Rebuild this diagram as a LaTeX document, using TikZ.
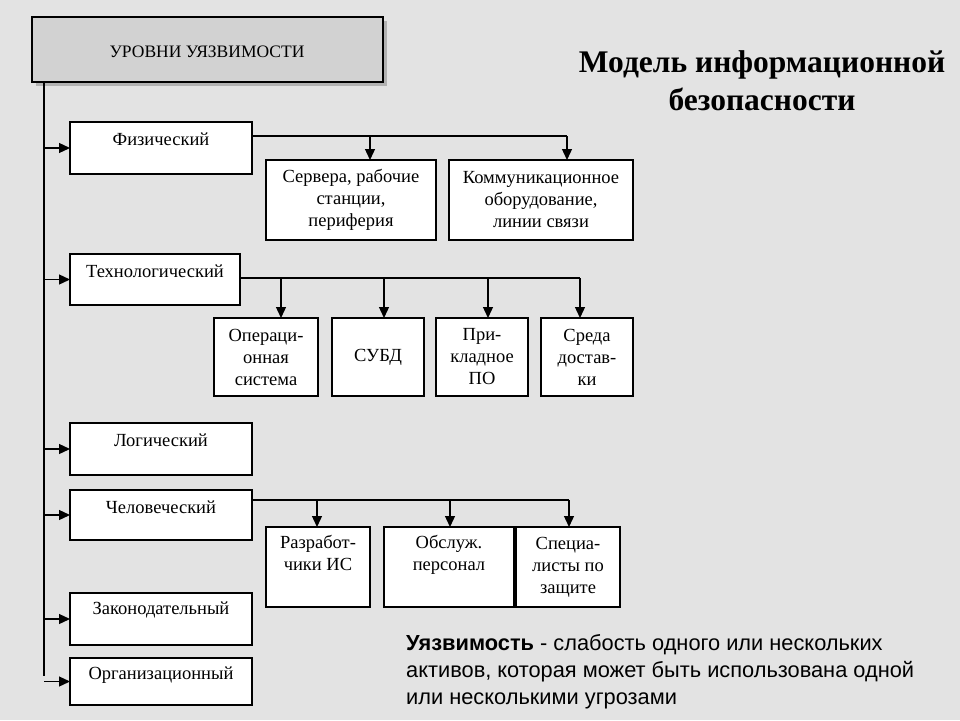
\documentclass[tikz,border=0pt]{standalone}
\usepackage{fontspec}
\setmainfont{Liberation Serif}
\newfontfamily\arialf{Liberation Sans}
\usetikzlibrary{arrows.meta}
\begin{document}
\begin{tikzpicture}[x=1pt,y=-1pt,
  bx/.style={draw,line width=1.8pt,fill=white},
  lvl/.style={font=\fontsize{18.5}{20}\selectfont},
  cld/.style={font=\fontsize{18.5}{22}\selectfont,align=center},
  ln/.style={line width=1.3pt},
  ar/.style={line width=1.3pt,-{Triangle[length=11pt,width=10pt]}}]
\useasboundingbox (0,0) rectangle (960,720);
\fill[gray!22] (0,0) rectangle (960,720);
% top box
\fill[gray!60] (36,21) rectangle (387,86);
\draw[line width=2pt,fill=gray!35] (32,17) rectangle (383,82);
\node[font=\fontsize{17.5}{19}\selectfont] (top) at (207,52) {УРОВНИ УЯЗВИМОСТИ};
\coordinate (vs) at (44,82);
\coordinate (ve) at (44,676);
\draw[ln] (vs) -- (ve);
% level boxes
\foreach \n/\xa/\ya/\xb/\yb/\t in {
 fiz/70/122/252/174/Физический,
 teh/70/254/240/305/Технологический,
 log/70/423/252/475/Логический,
 chel/70/490/252/540/Человеческий,
 zak/70/593/252/645/Законодательный,
 org/70/658/252/705/Организационный}{
  \draw[bx] (\xa,\ya) rectangle (\xb,\yb);
  \node[lvl] (\n) at ({(\xa+\xb)/2},\ya+17) {\t};
  \coordinate (\n L) at (\xa,{(\ya+\yb)/2});
  \coordinate (\n S) at (44,{(\ya+\yb)/2});
  \draw[ar] (\n S) -- (\n L);
}
% children
\foreach \n/\xa/\ya/\xb/\yb/\t in {
 c1/266/160/436/240/{Сервера, рабочие\\станции,\\периферия},
 c2/449/160/633/240/{Коммуникационное\\оборудование,\\линии связи},
 t1/214/318/318/396/{Операци-\\онная\\система},
 t2/332/318/424/396/{СУБД},
 t3/436/318/528/396/{При-\\кладное\\ПО},
 t4/541/318/633/396/{Среда\\достав-\\ки},
 h1/266/527/370/607/{Разработ-\\чики ИС\\\strut},
 h2/384/527/514/607/{Обслуж.\\персонал\\\strut},
 h3/516/527/620/607/{Специа-\\листы по\\защите}}{
  \draw[bx] (\xa,\ya) rectangle (\xb,\yb);
  \node[cld] (\n) at ({(\xa+\xb)/2},{(\ya+\yb)/2}) {\t};
}
% physical connectors
\coordinate (fa) at (252,136); \coordinate (fb) at (567,136);
\draw[ln] (fa) -- (fb);
\draw[ar] (370,136) -- (370,160);
\draw[ar] (fb) -- (567,160);
% tech connectors
\coordinate (ta) at (240,278); \coordinate (tb) at (580,278);
\draw[ln] (ta) -- (tb);
\foreach \x in {281,384,488,580}{\draw[ar] (\x,278) -- (\x,318);}
% human connectors
\coordinate (ha) at (252,500); \coordinate (hb) at (569,500);
\draw[ln] (ha) -- (hb);
\foreach \x in {317,450,569}{\draw[ar] (\x,500) -- (\x,527);}
% title
\node[font=\bfseries\fontsize{31.5}{38}\selectfont,align=center] (title) at (762,81) {Модель информационной\\безопасности};
% definition
\node[font=\arialf\fontsize{21.8}{27}\selectfont,align=left,anchor=north west,inner sep=0pt] (def) at (406,634)
 {\textbf{Уязвимость} - слабость одного или нескольких\\активов, которая может быть использована одной\\или несколькими угрозами};
\end{tikzpicture}
\end{document}
